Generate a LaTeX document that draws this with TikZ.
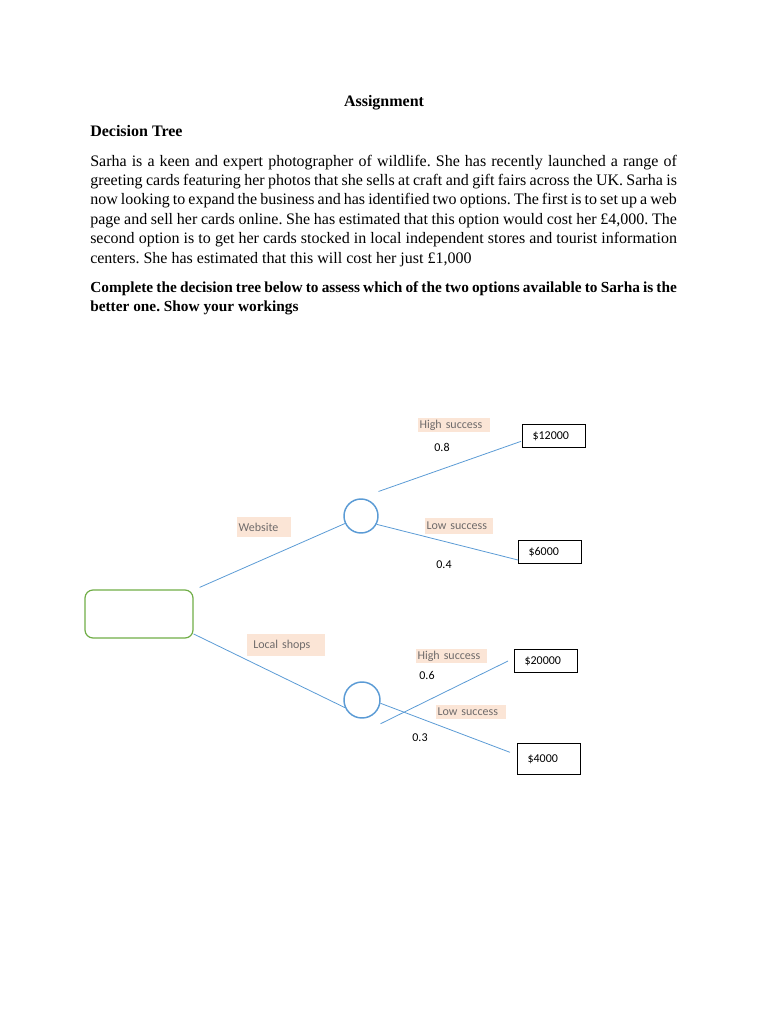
\documentclass[tikz,border=0pt]{standalone}
\usepackage{fontspec}
\setmainfont{Liberation Serif}
\newfontfamily\calibrifont{Carlito}
\usetikzlibrary{positioning}
\definecolor{branchblue}{HTML}{5B9BD5}
\definecolor{rootgreen}{HTML}{70AD47}
\definecolor{peach}{HTML}{FBE5D6}
\definecolor{labelgray}{HTML}{6F6B6B}
\newcommand\bodyfont{\fontsize{12}{14.6}\selectfont\frenchspacing}
\newcommand\treefont{\calibrifont\fontsize{9}{10}\selectfont}

\begin{document}
\begin{tikzpicture}[x=0.75pt, y=-0.75pt,
  para/.style={anchor=base west, inner sep=0pt, text width=440pt, align=justify, font=\bodyfont},
  branch/.style={draw=branchblue, line width=0.6pt},
  chance/.style={circle, draw=branchblue, line width=1.1pt, minimum size=#1, inner sep=0pt},
  payoff/.style={draw, line width=0.75pt, anchor=north west, minimum height=#1,
    text width=32pt, inner xsep=7.5pt, inner ysep=0pt, align=left, font=\treefont},
  tag/.style={fill=peach, text=labelgray, anchor=west, text width=#1, inner xsep=1pt,
    inner ysep=0pt, minimum height=12pt, align=left, font=\treefont},
  prob/.style={inner sep=0pt, font=\treefont}
]
\useasboundingbox (0,0) rectangle (768,1024);

% question text
\node[anchor=base, font=\bodyfont\bfseries] (title) at (384,107) {Assignment};
\node[anchor=base west, inner sep=0pt, font=\bodyfont\bfseries] (heading) at (90,136) {Decision Tree};
\node[para] (story) at (90,166) {\hyphenpenalty=10000\relax\tolerance=9999\relax
Sarha is a keen and expert photographer of wildlife. She has recently launched a range of\linebreak
greeting cards featuring her photos that she sells at craft and gift fairs across the UK. Sarha is\linebreak
now looking to expand the business and has identified two options. The first is to set up a web\linebreak
page and sell her cards online. She has estimated that this option would cost her £4,000. The\linebreak
second option is to get her cards stocked in local independent stores and tourist information\linebreak
centers. She has estimated that this will cost her just £1,000};
\node[para, font=\fontsize{11.5}{14.6}\selectfont\frenchspacing\bfseries] (task) at (90,292) {\hyphenpenalty=10000\relax\tolerance=9999\relax
Complete the decision tree below to assess which of the two options available to Sarha is the\linebreak
better one. Show your workings};

% decision and chance nodes
\node[draw=rootgreen, line width=0.9pt, rounded corners=6pt, minimum width=81pt, minimum height=36pt] (root) at (139,614) {};
\node[chance=25.5pt] (web) at (361,516) {};
\node[chance=27pt] (shop) at (362,700) {};

% payoffs
\node[payoff=17.25pt] (p12) at (522,424) {\$12000};
\node[payoff=17.25pt] (p6) at (518,540) {\$6000};
\node[payoff=17.25pt] (p20) at (514,649) {\$20000};
\node[payoff=23.25pt] (p4) at (517,743) {\$4000};

% branch labels
\node[tag=38pt, minimum height=15pt] (lweb) at (237,527) {Website};
\node[tag=52pt, minimum height=11pt] (lwebhi) at (418,425) {High success};
\node[tag=49pt] (lweblo) at (425,526) {Low success};
\node[tag=49pt, minimum height=16pt, inner xsep=4.5pt] (lshop) at (247,645) {Local shops};
\node[tag=51pt, minimum height=10.5pt] (lshophi) at (416,656) {High success};
\node[tag=50pt, minimum height=11pt] (lshoplo) at (436,712) {Low success};

% probabilities
\node[prob] (q8) at (442,447) {0.8};
\node[prob] (q4) at (444,565) {0.4};
\node[prob] (q6) at (427,675) {0.6};
\node[prob] (q3) at (420,738) {0.3};

% branches
\draw[branch] ([xshift=4.5pt,yshift=1.5pt]root.north east) -- (web.205);
\draw[branch] ([yshift=3.5pt]root.south east) -- (shop.204);
\draw[branch] ([xshift=3.75pt,yshift=9pt]web.north east) -- ([xshift=-0.75pt,yshift=-4pt]p12.west);
\draw[branch] (web.-28) -- ([yshift=3pt]p6.south west);
\draw[branch] ([xshift=5.25pt,yshift=-6.75pt]shop.-52) -- ([xshift=-4.5pt]p20.west);
\draw[branch] (shop.-10) -- ([xshift=-5.25pt,yshift=5pt]p4.west);
\end{tikzpicture}
\end{document}
